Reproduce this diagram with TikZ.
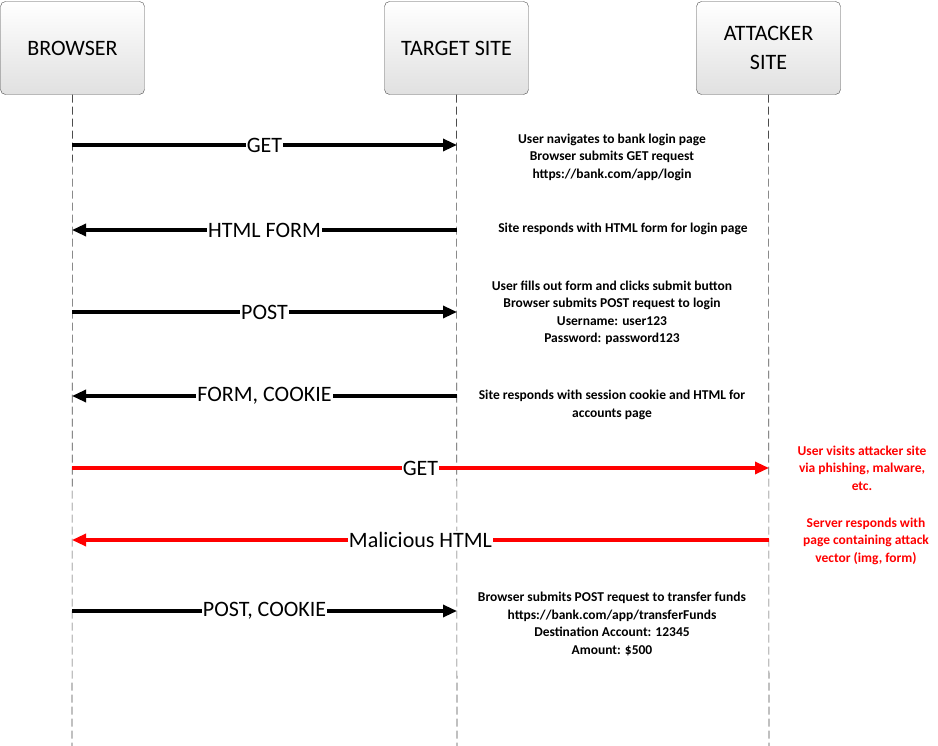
\documentclass[tikz,border=0pt]{standalone}
\usepackage{fontspec}
\setmainfont{Carlito}
\usetikzlibrary{arrows.meta}
\begin{document}
\begin{tikzpicture}[x=1pt,y=-1pt,
  actor/.style={draw=black!70,rounded corners=5pt,top color=white,bottom color=black!12,minimum width=144pt,minimum height=93pt,font=\fontsize{22}{29}\selectfont,align=center},
  life/.style={dash pattern=on 8pt off 4pt,black!70,line width=0.6pt},
  msg/.style={line width=3.2pt,-{Triangle[length=14pt,width=12pt]}},
  mlab/.style={fill=white,text=black,inner sep=1pt,font=\fontsize{22}{26}\selectfont},
  note/.style={align=center,font=\bfseries\fontsize{13.5}{17.5}\selectfont},
  rnote/.style={note,text=red}]
\useasboundingbox (0,0) rectangle (938,746);
\node[actor] (b) at (72.5,48) {BROWSER};
\node[actor] (t) at (456.5,48) {TARGET SITE};
\node[actor] (a) at (768.5,48) {ATTACKER\\SITE};
\coordinate (be) at (72,746); \coordinate (te) at (457,746); \coordinate (ae) at (769,746);
\draw[life] (b.south) -- (be);
\draw[life] (t.south) -- (te);
\draw[life] (a.south) -- (ae);
\foreach \n/\y in {1/145,2/230,3/312,4/396,5/468,6/540,7/611}{
  \coordinate (b\n) at (72,\y); \coordinate (t\n) at (457,\y); \coordinate (a\n) at (769,\y);}
\draw[msg] (b1) -- node[mlab] (l1) {GET} (t1);
\draw[msg] (t2) -- node[mlab] (l2) {HTML FORM} (b2);
\draw[msg] (b3) -- node[mlab] (l3) {POST} (t3);
\draw[msg] (t4) -- node[mlab] (l4) {FORM, COOKIE} (b4);
\draw[msg,red] (b5) -- node[mlab,pos=0.5] (l5) {GET} (a5);
\draw[msg,red] (a6) -- node[mlab] (l6) {Malicious HTML} (b6);
\draw[msg] (b7) -- node[mlab] (l7) {POST, COOKIE} (t7);
\node[note] (n1) at (612,157) {User navigates to bank login page\\Browser submits GET request\\https://bank.com/app/login};
\node[note] (n2) at (623,229) {Site responds with HTML form for login page};
\node[note] (n3) at (612,313) {User fills out form and clicks submit button\\Browser submits POST request to login\\Username: user123\\Password: password123};
\node[note] (n4) at (612,405) {Site responds with session cookie and HTML for\\accounts page};
\node[rnote] (n5) at (862,468) {User visits attacker site\\via phishing, malware,\\etc.};
\node[rnote] (n6) at (866,541) {Server responds with\\page containing attack\\vector (img, form)};
\node[note] (n7) at (612,624) {Browser submits POST request to transfer funds\\https://bank.com/app/transferFunds\\Destination Account: 12345\\Amount: \$500};
\end{tikzpicture}
\end{document}
